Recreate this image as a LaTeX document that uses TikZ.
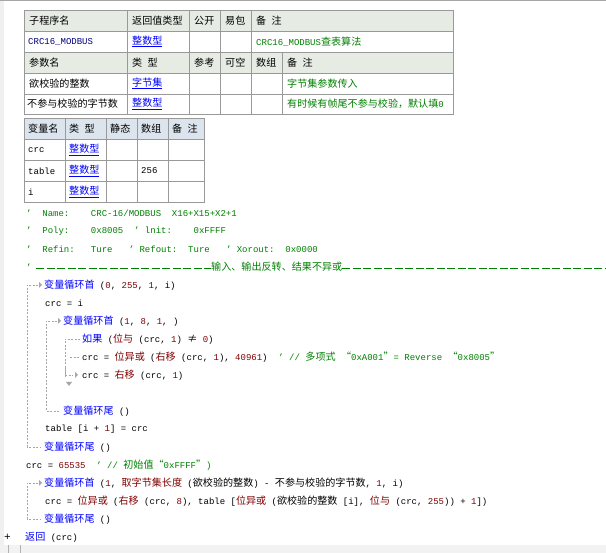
\documentclass[tikz,border=0pt]{standalone}
\usepackage{fontspec}
\setmainfont{Liberation Mono}
\newfontfamily\cjkf{Noto Sans CJK SC}[Scale=1.12]
\XeTeXinterchartokenstate=1
\newXeTeXintercharclass\cjkcls
\makeatletter
\def\setcls#1#2{\count@=#1\relax\loop\XeTeXcharclass\count@=\cjkcls\relax\ifnum\count@<#2\advance\count@ 1\repeat}
\makeatother
\setcls{"4E00}{"9FFF}
\setcls{"3000}{"303F}
\setcls{"FF00}{"FFEF}
\XeTeXcharclass"201C=\cjkcls \XeTeXcharclass"201D=\cjkcls \XeTeXcharclass"2260=\cjkcls
\XeTeXinterchartoks 0 \cjkcls = {\begingroup\cjkf}
\XeTeXinterchartoks 4095 \cjkcls = {\begingroup\cjkf}
\XeTeXinterchartoks \cjkcls 0 = {\endgroup}
\XeTeXinterchartoks \cjkcls 4095 = {\endgroup}
\begin{document}
\begin{tikzpicture}[x=1pt,y=-1pt,
  t/.style={anchor=west,inner sep=0pt,font=\fontsize{9}{10}\selectfont},
  grid/.style={draw=gray!80,line width=0.7pt},
  guide/.style={draw=gray!70,dashed,dash pattern=on 2pt off 1.5pt,line width=0.5pt},
  tri/.style={fill=gray!70,draw=none}]
\definecolor{ckw}{HTML}{0000FF}\definecolor{cfn}{HTML}{800000}
\definecolor{ccm}{HTML}{008000}\definecolor{cnv}{HTML}{000080}
\definecolor{hda}{HTML}{E6ECE4}\definecolor{hdb}{HTML}{DCE4EE}
\useasboundingbox (0,0) rectangle (606,553);
\fill[white] (0,0) rectangle (606,553);
\fill[gray!12] (0,0) rectangle (4,553);
\draw[gray!70,line width=1pt] (0,0.5) -- (606,0.5);
\fill[gray!10] (0,545) rectangle (606,553);
\draw[gray!60] (8,545) -- (8,553) (20,545) -- (20,553);
% table 1
\fill[hda] (24,10) rectangle (453,31);
\fill[hda] (24,52) rectangle (453,73);
\draw[grid] (24,10) rectangle (453,114);
\foreach \y in {31,52,73,94} \draw[grid] (24,\y) -- (453,\y);
\foreach \x in {127,189,220,251} \draw[grid] (\x,10) -- (\x,114);
\draw[grid] (282,52) -- (282,114);
\node[t] (a1) at (29,20.5) {子程序名};
\node[t] (a2) at (132,20.5) {返回值类型};
\node[t] (a3) at (194,20.5) {公开};
\node[t] (a4) at (225,20.5) {易包};
\node[t] (a5) at (256,20.5) {备 注};
\node[t,text=cnv] (b1) at (28,41.5) {CRC16\_MODBUS};
\node[t,text=ckw] (b2) at (132,41.5) {\underline{整数型}};
\node[t,text=ccm] (b5) at (256,41.5) {CRC16\_MODBUS查表算法};
\node[t] (c1) at (29,62.5) {参数名};
\node[t] (c2) at (132,62.5) {类 型};
\node[t] (c3) at (194,62.5) {参考};
\node[t] (c4) at (225,62.5) {可空};
\node[t] (c5) at (256,62.5) {数组};
\node[t] (c6) at (287,62.5) {备 注};
\node[t] (d1) at (29,83.5) {欲校验的整数};
\node[t,text=ckw] (d2) at (132,83.5) {\underline{字节集}};
\node[t,text=ccm] (d6) at (287,83.5) {字节集参数传入};
\node[t] (e1) at (27,104) {不参与校验的字节数};
\node[t,text=ckw] (e2) at (132,104) {\underline{整数型}};
\node[t,text=ccm] (e6) at (287,104) {有时候有帧尾不参与校验，默认填0};
% table 2
\fill[hdb] (24,118) rectangle (204,139);
\draw[grid] (24,118) rectangle (204,202);
\foreach \y in {139,160,181} \draw[grid] (24,\y) -- (204,\y);
\foreach \x in {65,106,137,168} \draw[grid] (\x,118) -- (\x,202);
\node[t] (f1) at (28,128.5) {变量名};
\node[t] (f2) at (69,128.5) {类 型};
\node[t] (f3) at (110,128.5) {静态};
\node[t] (f4) at (141,128.5) {数组};
\node[t] (f5) at (172,128.5) {备 注};
\node[t] (g1) at (28,150) {crc};
\node[t,text=ckw] (g2) at (69,150) {\underline{整数型}};
\node[t] (h1n) at (28,171) {table};
\node[t,text=ckw] (h2n) at (69,171) {\underline{整数型}};
\node[t] (h4) at (141,171) {256};
\node[t] (i1) at (28,192) {i};
\node[t,text=ckw] (i2) at (69,192) {\underline{整数型}};
% comments
\node[t,text=ccm] (l1) at (26,213) {'\ \ Name:\ \ \ \ CRC-16/MODBUS\ \ X16+X15+X2+1};
\node[t,text=ccm] (l2) at (26,231) {'\ \ Poly:\ \ \ \ 0x8005\ \ '\ lnit:\ \ \ \ 0xFFFF};
\node[t,text=ccm] (l3) at (26,249) {'\ \ Refin:\ \ \ Ture\ \ \ '\ Refout:\ \ Ture\ \ \ '\ Xorout:\ \ 0x0000};
\node[t,text=ccm] (l4) at (26,267) {'};
\node[t,text=ccm] (l4b) at (211,267) {输入、输出反转、结果不异或};
\draw[ccm,line width=0.8pt,dash pattern=on 8pt off 2.5pt] (36,268) -- (l4b.west|-0,268);
\draw[ccm,line width=0.8pt,dash pattern=on 8pt off 2.5pt] (l4b.east|-0,268) -- (606,268);
% code
\node[t] (m1) at (44,285) {\textcolor{ckw}{变量循环首} (\textcolor{cfn}{0}, \textcolor{cfn}{255}, \textcolor{cfn}{1}, i)};
\node[t] (m2) at (45,303) {crc = i};
\node[t] (m3) at (63,321) {\textcolor{ckw}{变量循环首} (\textcolor{cfn}{1}, \textcolor{cfn}{8}, \textcolor{cfn}{1}, )};
\node[t] (m4) at (82,339) {\textcolor{ckw}{如果} (\textcolor{cfn}{位与} (crc, \textcolor{cfn}{1}) ≠ \textcolor{cfn}{0})};
\node[t] (m5) at (82,357) {crc = \textcolor{cfn}{位异或} (\textcolor{cfn}{右移} (crc, \textcolor{cfn}{1}), \textcolor{cfn}{40961})\ \ \textcolor{ccm}{' // 多项式 “0xA001”= Reverse “0x8005”}};
\node[t] (m6) at (82,375) {crc = \textcolor{cfn}{右移} (crc, \textcolor{cfn}{1})};
\node[t] (m7) at (63,411) {\textcolor{ckw}{变量循环尾} ()};
\node[t] (m8) at (45,429) {table [i + \textcolor{cfn}{1}] = crc};
\node[t] (m9) at (44,447) {\textcolor{ckw}{变量循环尾} ()};
\node[t] (m10) at (26,465) {crc = \textcolor{cfn}{65535}\ \ \textcolor{ccm}{' // 初始值“0xFFFF”)}};
\node[t] (m11) at (44,483) {\textcolor{ckw}{变量循环首} (\textcolor{cfn}{1}, \textcolor{cfn}{取字节集长度} (欲校验的整数) - 不参与校验的字节数, \textcolor{cfn}{1}, i)};
\node[t] (m12) at (45,501) {crc = \textcolor{cfn}{位异或} (\textcolor{cfn}{右移} (crc, \textcolor{cfn}{8}), table [\textcolor{cfn}{位异或} (欲校验的整数 [i], \textcolor{cfn}{位与} (crc, \textcolor{cfn}{255})) + \textcolor{cfn}{1}])};
\node[t] (m13) at (44,519) {\textcolor{ckw}{变量循环尾} ()};
\node[t] (m14) at (25,537) {\textcolor{ckw}{返回} (crc)};
\node[t,font=\fontsize{11}{11}\selectfont] (plus) at (4,537) {+};
% guides
\draw[guide] (38,285) -- (27,285) -- (27,447) -- (41,447);
\fill[tri] (39,282) -- (42,285) -- (39,288) -- cycle;
\draw[guide] (57,321) -- (46,321) -- (46,411) -- (60,411);
\fill[tri] (58,318) -- (61,321) -- (58,324) -- cycle;
\draw[guide] (80,339) -- (65,339) -- (65,377);
\draw[guide] (70,357) -- (80,357);
\draw[guide] (65,368) -- (65,375) -- (73,375);
\fill[tri] (75,372) -- (78,375) -- (75,378) -- cycle;
\fill[tri] (66,382) -- (72,382) -- (69,386) -- cycle;
\draw[guide] (38,483) -- (27,483) -- (27,519) -- (41,519);
\fill[tri] (39,480) -- (42,483) -- (39,486) -- cycle;
\end{tikzpicture}
\end{document}
